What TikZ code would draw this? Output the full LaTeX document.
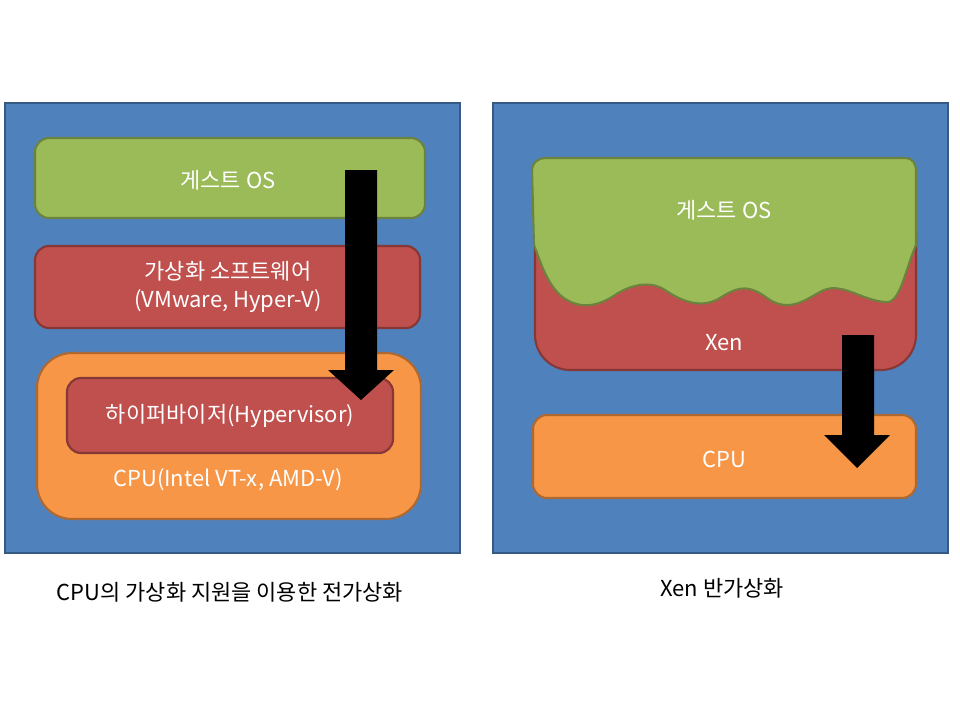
\documentclass[tikz,border=0pt]{standalone}
\usepackage{fontspec}
\setmainfont{Noto Sans CJK KR}
\definecolor{pblue}{HTML}{4F81BD}
\definecolor{pgreen}{HTML}{9BBB59}
\definecolor{pred}{HTML}{C0504D}
\definecolor{porange}{HTML}{F79646}
\begin{document}
\begin{tikzpicture}[x=0.02cm, y=-0.02cm]
				% Define styles for boxes
				\tikzset{
					panel/.style={draw=pblue!70!black, fill=pblue, line width=1.2pt},
					greenbox/.style={draw=pgreen!70!black, fill=pgreen, line width=1.2pt, rounded corners=8pt},
					redbox/.style={draw=pred!70!black, fill=pred, line width=1.2pt, rounded corners=8pt},
					orangebox/.style={draw=porange!70!black, fill=porange, line width=1.2pt, rounded corners=8pt},
					lbl/.style={text=white, font=\fontsize{12.5}{16}\selectfont, align=center},
					caption/.style={text=black, font=\fontsize{12.5}{16}\selectfont},
					blockarrow/.style={fill=black}
				}
				\useasboundingbox (0,0) rectangle (960,720);
				
				% Full virtualization
				\draw[panel] (5,103) rectangle (460,553);
				\draw[greenbox] (35,138) rectangle (425,218);
				\draw[redbox] (35,246) rectangle (420,328);
				\draw[orangebox, rounded corners=20pt] (37,353) rectangle (421,519);
				\draw[redbox] (67,378) rectangle (393,453);
				\node[lbl] (guestL) at (228,180) {게스트 OS};
				\node[lbl] (softL) at (228,287) {가상화 소프트웨어\\(VMware, Hyper-V)};
				\node[lbl] (hyperL) at (230,416) {하이퍼바이저(Hypervisor)};
				\node[lbl] (cpuL) at (228,480) {CPU(Intel VT-x, AMD-V)};
				\fill[blockarrow] (345,170) -- (377,170) -- (377,370) -- (394,370) -- (361,400) -- (328,370) -- (345,370) -- cycle;
				
				% Para virtualization
				\draw[panel] (493,103) rectangle (948,553);
				\draw[redbox, rounded corners=20pt] (535,200) rectangle (916,370);
				\draw[greenbox, rounded corners=0pt] (545,158) -- (906,158) to[out=0,in=90] (916,170)
					-- (916,245) .. controls (905,270) and (900,305) .. (885,302)
					.. controls (860,300) and (840,280) .. (820,292)
					.. controls (805,300) and (790,312) .. (770,300)
					.. controls (750,285) and (740,285) .. (720,298)
					.. controls (700,310) and (680,300) .. (665,290)
					.. controls (650,280) and (630,285) .. (615,295)
					.. controls (600,305) and (580,312) .. (560,295)
					.. controls (545,280) and (540,260) .. (534,245)
					-- (532,170) to[out=90,in=180] (545,158) -- cycle;
				\draw[orangebox] (533,415) rectangle (916,498);
				\node[lbl] (guestR) at (724,210) {게스트 OS};
				\node[lbl] (xenR) at (724,343) {Xen};
				\node[lbl] (cpuR) at (724,459) {CPU};
				\fill[blockarrow] (842,335) -- (874,335) -- (874,435) -- (890,435) -- (857,468) -- (824,435) -- (842,435) -- cycle;
				
				% Captions
				\node[caption] (capL) at (230,592) {CPU의 가상화 지원을 이용한 전가상화};
				\node[caption] (capR) at (722,588) {Xen 반가상화};
\end{tikzpicture}
\end{document}
